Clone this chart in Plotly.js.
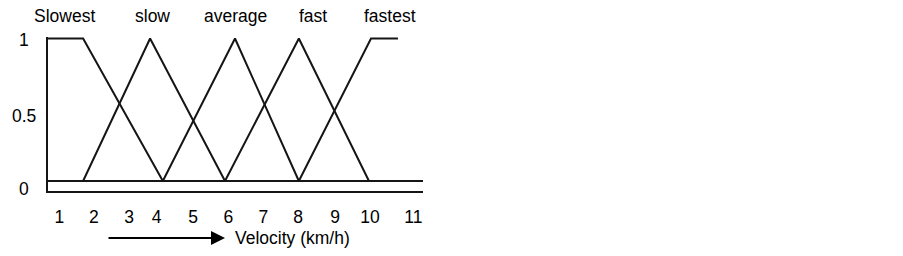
<!DOCTYPE html>
<html>
<head>
<meta charset="utf-8">
<script src="https://cdn.plot.ly/plotly-3.0.1.min.js"></script>
<style>html,body{margin:0;padding:0;background:#fff;}#chart{width:903px;height:256px;}</style>
</head>
<body>
<div id="chart"></div>
<script>
// Membership functions (x in km/h, y = membership degree)
var slowestX = [0.673, 1.69, 4.0];
var slowestY = [1, 1, 0];
var slowX = [1.69, 3.63, 5.8];
var slowY = [0, 1, 0];
var averageX = [4.0, 6.09, 7.94];
var averageY = [0, 1, 0];
var fastX = [5.8, 7.94, 9.97];
var fastY = [0, 1, 0];
var fastestX = [7.94, 10.03, 10.81];
var fastestY = [0, 1, 1];

// Set names and their label positions (km/h)
var setNames = ['Slowest', 'slow', 'average', 'fast', 'fastest'];
var setLabelX = [1.14, 3.71, 6.09, 8.35, 10.58];

// Tick labels
var xTickVals = [1.0, 2.005, 3.02, 3.82, 4.88, 5.9, 6.91, 7.92, 8.99, 10.0, 11.255];
var xTickText = ['1', '2', '3', '4', '5', '6', '7', '8', '9', '10', '11'];
var yTickVals = [0.989, 0.456, -0.056];
var yTickText = ['1', '0.5', '0'];

var xTitle = 'Velocity (km/h)';

var FONT = 'Liberation Sans, Arial, Helvetica, sans-serif';
var FS = 17.5;
var LINE = {color: '#151515', width: 2};

function tr(x, y) {
  return {x: x, y: y, type: 'scatter', mode: 'lines', line: LINE, hoverinfo: 'skip', showlegend: false};
}
var data = [
  tr(slowestX, slowestY), tr(slowX, slowY), tr(averageX, averageY),
  tr(fastX, fastY), tr(fastestX, fastestY)
];

var annotations = [];
setNames.forEach(function (n, i) {
  annotations.push({text: n, x: setLabelX[i], xref: 'x', y: 1.136, yref: 'paper',
    xanchor: 'center', yanchor: 'middle', showarrow: false,
    font: {family: FONT, size: FS, color: '#000'}});
});
yTickText.forEach(function (t, i) {
  annotations.push({text: t, x: -0.065, xref: 'paper', y: yTickVals[i], yref: 'y',
    xanchor: 'center', yanchor: 'middle', showarrow: false,
    font: {family: FONT, size: FS, color: '#000'}});
});
annotations.push({text: '', x: 0.472, xref: 'paper', y: -0.305, yref: 'paper',
  showarrow: true, ax: -118, ay: 0, axref: 'pixel', ayref: 'pixel',
  arrowhead: 2, arrowsize: 1.4, arrowwidth: 2, arrowcolor: '#000'});
annotations.push({text: xTitle, x: 0.4933, xref: 'paper', y: -0.305, yref: 'paper',
  xanchor: 'left', yanchor: 'middle', showarrow: false,
  font: {family: FONT, size: FS, color: '#000'}});

var layout = {
  width: 903, height: 256,
  margin: {l: 48, r: 480, t: 37, b: 65, pad: 0},
  paper_bgcolor: '#fff', plot_bgcolor: '#fff',
  font: {family: FONT, size: FS, color: '#000'},
  showlegend: false,
  xaxis: {
    range: [0.673, 11.536], showgrid: false, zeroline: false,
    showline: true, linecolor: '#151515', linewidth: 2,
    tickmode: 'array', tickvals: xTickVals, ticktext: xTickText,
    ticks: '', ticklabelstandoff: 9,
    tickfont: {family: FONT, size: FS, color: '#000'}
  },
  yaxis: {
    range: [-0.0702, 1.0105], showgrid: false,
    zeroline: true, zerolinecolor: '#151515', zerolinewidth: 2,
    showline: true, linecolor: '#151515', linewidth: 2,
    showticklabels: false, ticks: ''
  },
  annotations: annotations
};

Plotly.newPlot('chart', data, layout, {displayModeBar: false, staticPlot: true});
</script>
</body>
</html>
